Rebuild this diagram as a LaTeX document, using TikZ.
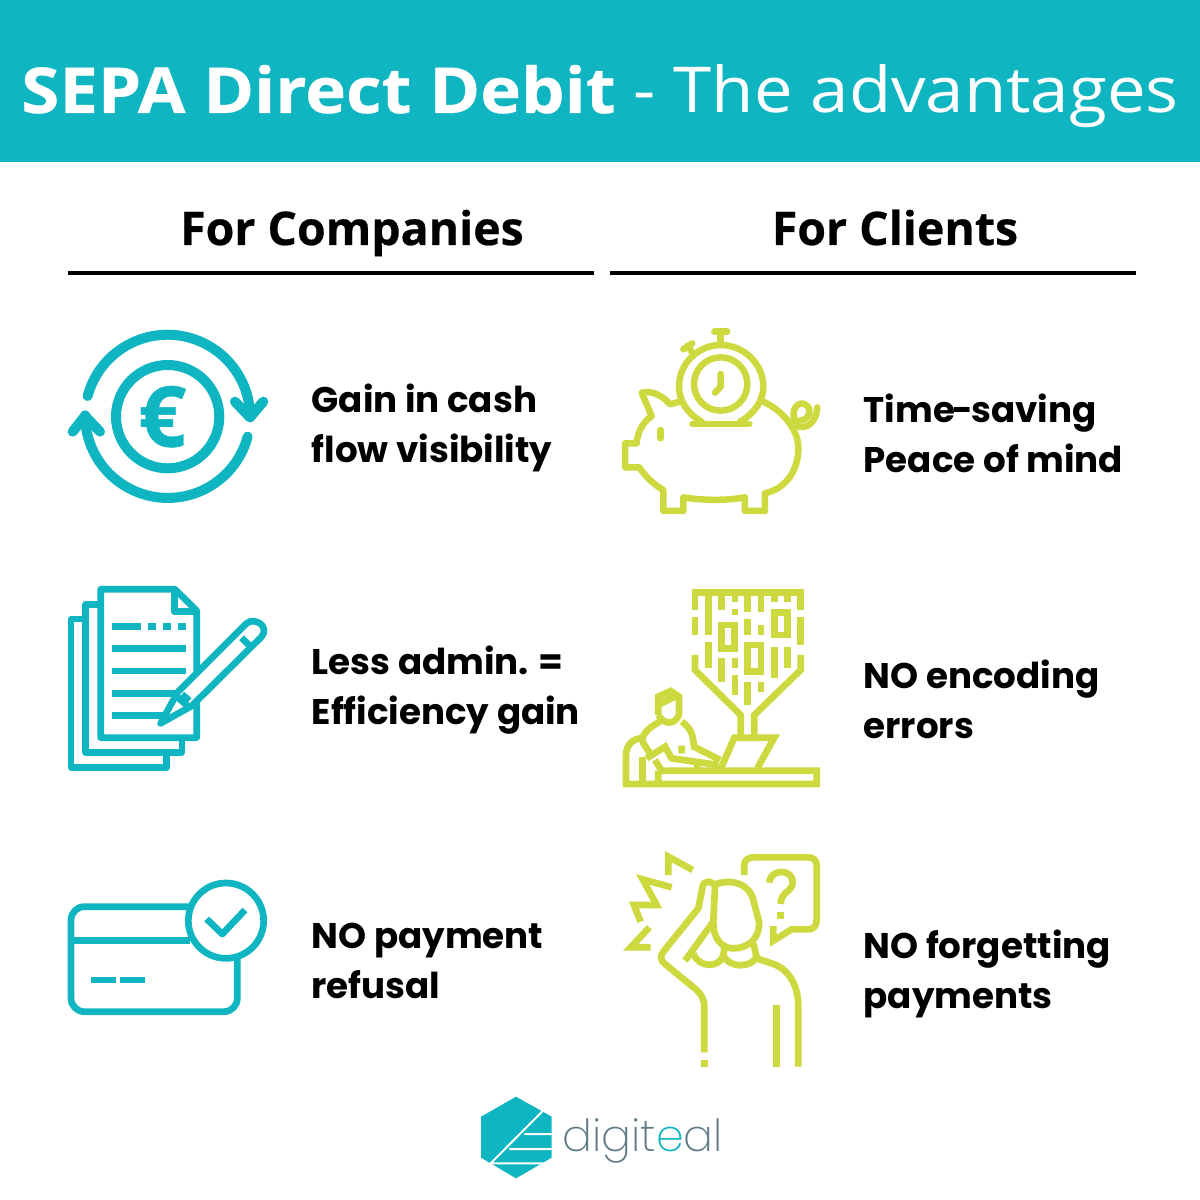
\documentclass[tikz,border=0pt]{standalone}
\usepackage{fontspec}
\usepackage{xcolor}
\setmainfont{Open Sans}[BoldFeatures={FakeBold=0.5}]
\newfontfamily\titlefont{Open Sans}[FakeStretch=1.09, BoldFeatures={FakeBold=0.5}]
\newfontfamily\itemfont{Poppins}
\newfontfamily\logofont{Poppins ExtraLight}
\usetikzlibrary{positioning,calc}
\definecolor{tealhead}{HTML}{0FB5C1}
\definecolor{limeicon}{HTML}{CDD93E}
\definecolor{logogrey}{HTML}{5F7B87}
\tikzset{
    headtitle/.style={anchor=base, text=white, font=\fontsize{18}{22}\selectfont\titlefont, inner sep=0},
    colhead/.style={anchor=base, font=\fontsize{13.2}{15}\selectfont\bfseries, inner sep=0},
    itemtext/.style={anchor=west, align=left, inner sep=0, font=\fontsize{10.15}{14.2}\selectfont\itemfont\bfseries},
    colrule/.style={line width=0.35mm},
    tealline/.style={draw=tealhead, line width=1mm, line cap=round, line join=round},
    tealthin/.style={draw=tealhead, line width=0.67mm, line join=round},
    limeline/.style={draw=limeicon, line width=0.65mm, line cap=round, line join=round},
    limesharp/.style={draw=limeicon, line width=0.67mm, line join=miter}
}

\begin{document}
\begin{tikzpicture}[x=0.1mm, y=-0.1mm]
    \useasboundingbox (0, 0) rectangle (1200, 1200);

    % Banner
    \fill [tealhead] (0, 0) rectangle (1200, 162);
    \node [headtitle] (title) at (600, 113) {\textbf{SEPA Direct Debit} - The advantages};

    % Column heads
    \node [colhead] (companies) at (352, 245) {For Companies};
    \node [colhead] (clients) at (895, 245) {For Clients};
    \draw [colrule] (68, 273) -- (594, 273);
    \draw [colrule] (610, 273) -- (1136, 273);

    % Texts
    \node [itemtext] (cash) at (311, 428) {Gain in cash\\flow visibility};
    \node [itemtext] (admin) at (311, 690) {Less admin. =\\Efficiency gain};
    \node [itemtext] (refusal) at (311, 961) {NO payment\\refusal};
    \node [itemtext] (time) at (863, 433) {Time\kern-0.06em-\kern-0.06em saving\\Peace of mind};
    \node [itemtext] (encoding) at (863, 699) {NO encoding\\errors};
    \node [itemtext] (forgetting) at (863, 974) {NO forgetting\\payments};

    % Euro icon
    \begin{scope}[shift={(50, 310)}, scale=0.3333]
        \draw [tealline] (353, 320) circle [radius=155];
        \draw [tealline] (113, 258) arc [start angle=195, end angle=360, radius=248];
        \draw [tealline] (593, 380) arc [start angle=15, end angle=180, radius=248];
        \draw [tealline] (555, 275) -- (600, 322) -- (640, 275);
        \draw [tealline] (68, 365) -- (105, 318) -- (150, 365);
        \node [text=tealhead, inner sep=0, font=\fontsize{24}{24}\selectfont\bfseries] (euro) at (337, 320) {€};
    \end{scope}

    % Document icon
    \begin{scope}[shift={(50, 570)}, scale=0.3333]
        \draw [tealthin] (152, 103) -- (107, 103) -- (107, 547) -- (396, 547) -- (396, 503);
        \draw [tealthin] (107, 147) -- (63, 147) -- (63, 592) -- (350, 592) -- (350, 547);
        \draw [tealthin] (152, 58) -- (375, 58) -- (440, 122) -- (440, 503) -- (152, 503) -- cycle;
        \draw [tealthin] (373, 58) -- (373, 125) -- (440, 125);
        \draw [tealthin] (185, 170) -- (273, 170) (295, 170) -- (317, 170) (340, 170) -- (362, 170) (385, 170) -- (407, 170);
        \draw [tealthin] (185, 236) -- (407, 236) (185, 303) -- (407, 303) (185, 370) -- (390, 370) (185, 436) -- (345, 436);
        \draw [tealthin, fill=white, line cap=round] (332, 460) -- (382, 368) -- (590, 160) .. controls (615, 140) and (660, 170) .. (635, 200) -- (425, 408) -- cycle;
        \draw [tealthin] (378, 378) -- (418, 412) (396, 373) -- (418, 392) (575, 203) -- (600, 228);
    \end{scope}

    % Card icon
    \begin{scope}[shift={(50, 870)}, scale=0.3333]
        \draw [tealthin] (63, 212) -- (420, 212);
        \draw [tealthin, rounded corners=3.8pt] (420, 110) -- (63, 110) -- (63, 425) -- (562, 425) -- (562, 260);
        \draw [tealthin] (122, 330) -- (197, 330) (210, 330) -- (285, 330);
        \draw [tealthin] (528, 152) circle [radius=113];
        \draw [tealthin] (470, 147) -- (517, 192) -- (585, 120);
    \end{scope}

    % Piggy icon
    \begin{scope}[shift={(600, 310)}, scale=0.3333]
        \draw [limeline] (240, 275) -- (210, 283) .. controls (190, 260) and (160, 240) .. (125, 248) -- (155, 318) .. controls (125, 340) and (112, 370) .. (110, 400) -- (75, 400) -- (75, 472) -- (118, 472) .. controls (140, 505) and (165, 525) .. (190, 540) -- (190, 603) -- (250, 603) -- (250, 562) .. controls (310, 572) and (380, 572) .. (435, 562) -- (435, 603) -- (495, 603) -- (495, 550) .. controls (560, 535) and (595, 480) .. (595, 415) .. controls (595, 355) and (545, 300) .. (490, 275);
        \draw [limeline] (583, 345) .. controls (625, 365) and (650, 330) .. (652, 292);
        \draw [limeline] (590, 345) .. controls (565, 300) and (595, 272) .. (615, 283) .. controls (642, 298) and (625, 332) .. (598, 332);
        \draw [limeline] (182, 360) -- (182, 385);
        \draw [limeline] (305, 335) .. controls (260, 310) and (237, 270) .. (237, 230) .. controls (237, 160) and (295, 105) .. (362, 105) .. controls (430, 105) and (490, 160) .. (490, 230) .. controls (490, 270) and (465, 310) .. (420, 335);
        \draw [limeline] (277, 342) -- (448, 342);
        \draw [limeline] (362, 222) circle [radius=80];
        \draw [limeline] (362, 192) -- (362, 230) -- (345, 248);
        \draw [limeline] (362, 105) -- (362, 65) (343, 65) -- (382, 65);
        \draw [limeline] (275, 125) -- (262, 107) (250, 118) -- (277, 100);
    \end{scope}

    % Encoding icon
    \begin{scope}[shift={(610, 580)}, scale=0.3333]
        \draw [limesharp] (255, 90) -- (255, 37) -- (572, 37) -- (572, 90);
        \draw [limesharp] (255, 110) -- (255, 165) (572, 110) -- (572, 195);
        \draw [limesharp] (255, 225) -- (255, 270) -- (392, 405) -- (392, 465);
        \draw [limesharp] (572, 225) -- (572, 270) -- (433, 405) -- (433, 465);
        \draw [limesharp] (295, 37) -- (295, 165) (295, 185) -- (295, 265);
        \draw [limesharp] (335, 37) -- (335, 90) (335, 235) -- (335, 305);
        \draw [limesharp] (375, 37) -- (375, 65) (375, 87) -- (375, 105) (375, 235) -- (375, 265) (375, 285) -- (375, 345);
        \draw [limesharp] (413, 37) -- (413, 95) (413, 118) -- (413, 165) (413, 305) -- (413, 375);
        \draw [limesharp] (453, 37) -- (453, 95) (453, 135) -- (453, 165) (453, 305) -- (453, 335);
        \draw [limesharp] (493, 37) -- (493, 65) (493, 200) -- (493, 295);
        \draw [limesharp] (533, 37) -- (533, 65) (533, 200) -- (533, 265);
        \draw [limesharp] (335, 135) rectangle (373, 205);
        \draw [limesharp] (493, 97) rectangle (533, 165);
        \draw [limesharp] (413, 195) rectangle (453, 275);
        \draw [limesharp] (335, 560) -- (373, 473) -- (493, 473) -- (442, 565);
        \draw [limesharp] (145, 572) -- (145, 612) (145, 572) -- (620, 572) -- (620, 612) -- (48, 612) -- (48, 525) .. controls (48, 495) and (70, 475) .. (95, 475);
        \draw [limesharp] (97, 530) -- (97, 612);
        \draw [limesharp] (145, 405) -- (145, 350) -- (182, 333) -- (207, 350) -- (207, 405) .. controls (195, 435) and (160, 435) .. (145, 405) (150, 372) -- (205, 345);
        \draw [limesharp] (150, 425) .. controls (110, 445) and (90, 470) .. (100, 490) -- (127, 530);
        \draw [limesharp] (215, 425) .. controls (245, 445) and (250, 470) .. (252, 500) -- (330, 540);
        \draw [limesharp] (110, 535) -- (165, 500) -- (185, 535) -- (325, 555) (135, 540) -- (155, 572) (215, 497) -- (215, 520) (262, 550) -- (262, 572) (335, 555) -- (335, 572);
    \end{scope}

    % Headache icon
    \begin{scope}[shift={(610, 840)}, scale=0.3333]
        \draw [limesharp] (403, 105) -- (403, 75) .. controls (403, 60) and (415, 52) .. (430, 52) -- (595, 52) .. controls (610, 52) and (620, 62) .. (620, 75) -- (620, 240) .. controls (620, 258) and (610, 268) .. (595, 268) -- (545, 268) -- (490, 302) -- (490, 258);
        \draw [limesharp] (478, 128) .. controls (480, 85) and (550, 85) .. (548, 128) .. controls (548, 155) and (512, 155) .. (512, 192);
        \draw [limesharp] (512, 215) -- (512, 237);
        \draw [limesharp] (175, 105) -- (175, 50) -- (248, 90);
        \draw [limesharp] (185, 142) -- (98, 118) -- (140, 195) -- (72, 195) -- (92, 245);
        \draw [limesharp] (118, 262) -- (62, 322) -- (122, 322);
        \draw [limesharp] (225, 362) -- (310, 245) -- (315, 140) .. controls (310, 120) and (280, 120) .. (278, 140) -- (265, 205) -- (160, 335) .. controls (150, 350) and (150, 360) .. (165, 372) -- (260, 450) .. controls (275, 465) and (283, 480) .. (283, 500) -- (283, 637);
        \draw [limesharp] (283, 660) -- (283, 680);
        \draw [limesharp] (320, 132) .. controls (370, 115) and (420, 135) .. (430, 180) -- (447, 245) .. controls (450, 300) and (410, 325) .. (370, 325) .. controls (335, 325) and (310, 295) .. (310, 250);
        \draw [limesharp] (250, 340) .. controls (265, 385) and (330, 385) .. (340, 345) .. controls (355, 385) and (425, 385) .. (440, 350);
        \draw [limesharp] (345, 318) -- (340, 345) (430, 310) -- (440, 352);
        \draw [limesharp] (440, 355) -- (490, 372) .. controls (540, 390) and (565, 440) .. (565, 500) -- (565, 680);
        \draw [limesharp] (500, 495) -- (500, 680);
    \end{scope}

    % Logo
    \begin{scope}[shift={(470, 1085)}, scale=0.3333]
        \fill [tealhead] (138, 35) -- (245, 95) -- (245, 218) -- (138, 280) -- (33, 218) -- (33, 95) -- cycle;
        \draw [white, line width=0.2mm] (218, 78) -- (62, 235) -- (245, 235) (163, 147) -- (245, 147) (118, 192) -- (245, 192);
    \end{scope}
    \node [anchor=base west, inner sep=0, text=logogrey, font=\fontsize{12.6}{15}\selectfont\logofont] (logotext) at (562, 1151) {digit\textcolor{tealhead}{e}al};
\end{tikzpicture}
\end{document}
